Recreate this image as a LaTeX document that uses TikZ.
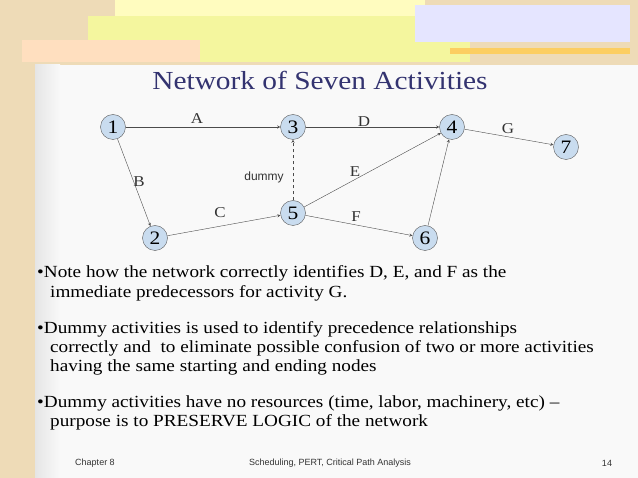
\documentclass[tikz,border=0pt]{standalone}
\usepackage{fontspec}
\setmainfont{Liberation Serif}
\setsansfont{Liberation Sans}
\newfontfamily\widefont[FakeStretch=1.13]{Liberation Serif}
\definecolor{evfill}{HTML}{C9DCEF}
\begin{document}
\begin{tikzpicture}[x=1pt,y=-1pt,
  ev/.style={circle,draw=gray!70!black,fill=evfill,inner sep=0pt,minimum size=25pt,font=\widefont\fontsize{19}{20}\selectfont},
  act/.style={draw=gray!60!black,-stealth,thin},
  lab/.style={font=\widefont\fontsize{15}{16}\selectfont,text=black!80},
  bul/.style={anchor=west,font=\widefont\fontsize{17}{19}\selectfont,inner sep=0pt},
  foot/.style={font=\sffamily\fontsize{9}{10}\selectfont,text=black!80}]
\useasboundingbox (0,0) rectangle (638,478);
\fill[orange!20!yellow!25!brown!35] (0,0) rectangle (638,478);
\shade[left color=gray!20,right color=white!95!gray] (35,65) rectangle (60,478);
\fill[white!95!gray] (60,65) rectangle (638,478);
\fill[yellow!25] (115,0) rectangle (425,16);
\fill[green!25!brown!25!yellow!40] (88,16) rectangle (470,62);
\fill[blue!10] (415,5) rectangle (630,42);
\fill[orange!25] (22,40) rectangle (200,62);
\fill[yellow!40!orange!60] (450,48) rectangle (630,54);
\node[text=blue!30!black!80,font=\widefont\fontsize{26}{28}\selectfont] (title) at (320,80) {Network of Seven Activities};
\node[ev] (n1) at (113,127) {1};
\node[ev] (n3) at (293,127) {3};
\node[ev] (n4) at (452,127) {4};
\node[ev] (n7) at (566,147) {7};
\node[ev] (n5) at (293,213) {5};
\node[ev] (n2) at (155,238) {2};
\node[ev] (n6) at (425,238) {6};
\draw[act] (n1) -- (n3);
\draw[act] (n3) -- (n4);
\draw[act] (n4) -- (n7);
\draw[act] (n1) -- (n2);
\draw[act] (n2) -- (n5);
\draw[act] (n5) -- (n4);
\draw[act] (n5) -- (n6);
\draw[act] (n6) -- (n4);
\draw[act,dashed] (n5) -- (n3);
\node[lab] (la) at (197,119) {A};
\node[lab] (ld) at (364,122) {D};
\node[lab] (lg) at (508,129) {G};
\node[lab] (lb) at (139,182) {B};
\node[lab] (le) at (355,172) {E};
\node[lab] (lc) at (220,213) {C};
\node[lab] (lf) at (356,217) {F};
\node[font=\sffamily\fontsize{12}{13}\selectfont,text=black!80] (ldum) at (264,177) {dummy};
\node[bul] (b1) at (37,273) {•Note how the network correctly identifies D, E, and F as the};
\node[bul] (b1b) at (50,293) {immediate predecessors for activity G.};
\node[bul] (b2) at (37,329) {•Dummy activities is used to identify precedence relationships};
\node[bul] (b2b) at (50,348) {correctly and\ \ to eliminate possible confusion of two or more activities};
\node[bul] (b2c) at (50,367) {having the same starting and ending nodes};
\node[bul] (b3) at (37,403) {•Dummy activities have no resources (time, labor, machinery, etc) –};
\node[bul] (b3b) at (50,422) {purpose is to PRESERVE LOGIC of the network};
\node[foot] (f1) at (95,463) {Chapter 8};
\node[foot] (f2) at (330,463) {Scheduling, PERT, Critical Path Analysis};
\node[foot] (f3) at (607,463) {14};
\end{tikzpicture}
\end{document}
